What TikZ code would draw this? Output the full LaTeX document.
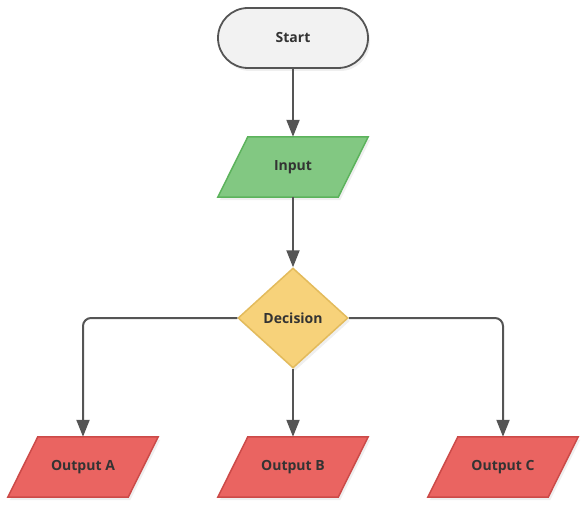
\documentclass[tikz,border=0pt]{standalone}
\usepackage{fontspec}
\setmainfont{Open Sans}
\usetikzlibrary{shapes.geometric,arrows.meta,backgrounds,shadows,calc}
\definecolor{linec}{HTML}{555555}
\definecolor{txtc}{HTML}{333333}
\definecolor{startf}{HTML}{F2F2F2}
\definecolor{inf}{HTML}{82C882}
\definecolor{ind}{HTML}{5CB35C}
\definecolor{decf}{HTML}{F7D27A}
\definecolor{decd}{HTML}{E3BB5C}
\definecolor{outf}{HTML}{EA6461}
\definecolor{outd}{HTML}{CC4A48}
\tikzset{
  lbl/.style={font=\bfseries\fontsize{14}{16}\selectfont, text=txtc},
  shd/.style={drop shadow={opacity=0.13, shadow xshift=2pt, shadow yshift=-3pt}},
  startbox/.style={lbl, rectangle, rounded corners=30pt, minimum width=150pt, minimum height=60pt,
    draw=linec, line width=1.8pt, fill=startf, shd},
  iobox/.style={lbl, rectangle, minimum width=150pt, minimum height=60pt, inner sep=0pt},
  decbox/.style={lbl, diamond, minimum width=110pt, minimum height=100pt, inner sep=0pt,
    draw=decd, line width=1.5pt, fill=decf, shd},
  conn/.style={draw=linec, line width=2pt, rounded corners=8pt,
    -{Triangle[length=17pt,width=13pt]}},
}
\newcommand{\para}[3]{%
  \path[draw=#3, line width=1.5pt, fill=#2, shd]
    ($(#1.north west)+(30,0)$) -- (#1.north east) -- ($(#1.south east)-(30,0)$) -- (#1.south west) -- cycle;}
\begin{document}
\begin{tikzpicture}[x=1pt,y=-1pt]
\useasboundingbox (0,0) rectangle (588,508);
\node[startbox] (start) at (293,38) {Start};
\node[iobox] (input) at (293,167) {Input};
\node[decbox] (dec) at (293,318) {Decision};
\node[iobox] (oa) at (83,467) {Output A};
\node[iobox] (ob) at (293,467) {Output B};
\node[iobox] (oc) at (503,467) {Output C};
\begin{scope}[on background layer]
  \para{input}{inf}{ind}
  \para{oa}{outf}{outd}
  \para{ob}{outf}{outd}
  \para{oc}{outf}{outd}
\end{scope}
\draw[conn] (start.south) -- (input.north);
\draw[conn] (input.south) -- (dec.north);
\draw[conn] (dec.south) -- (ob.north);
\draw[conn] (dec.west) -| (oa.north);
\draw[conn] (dec.east) -| (oc.north);
\end{tikzpicture}
\end{document}
